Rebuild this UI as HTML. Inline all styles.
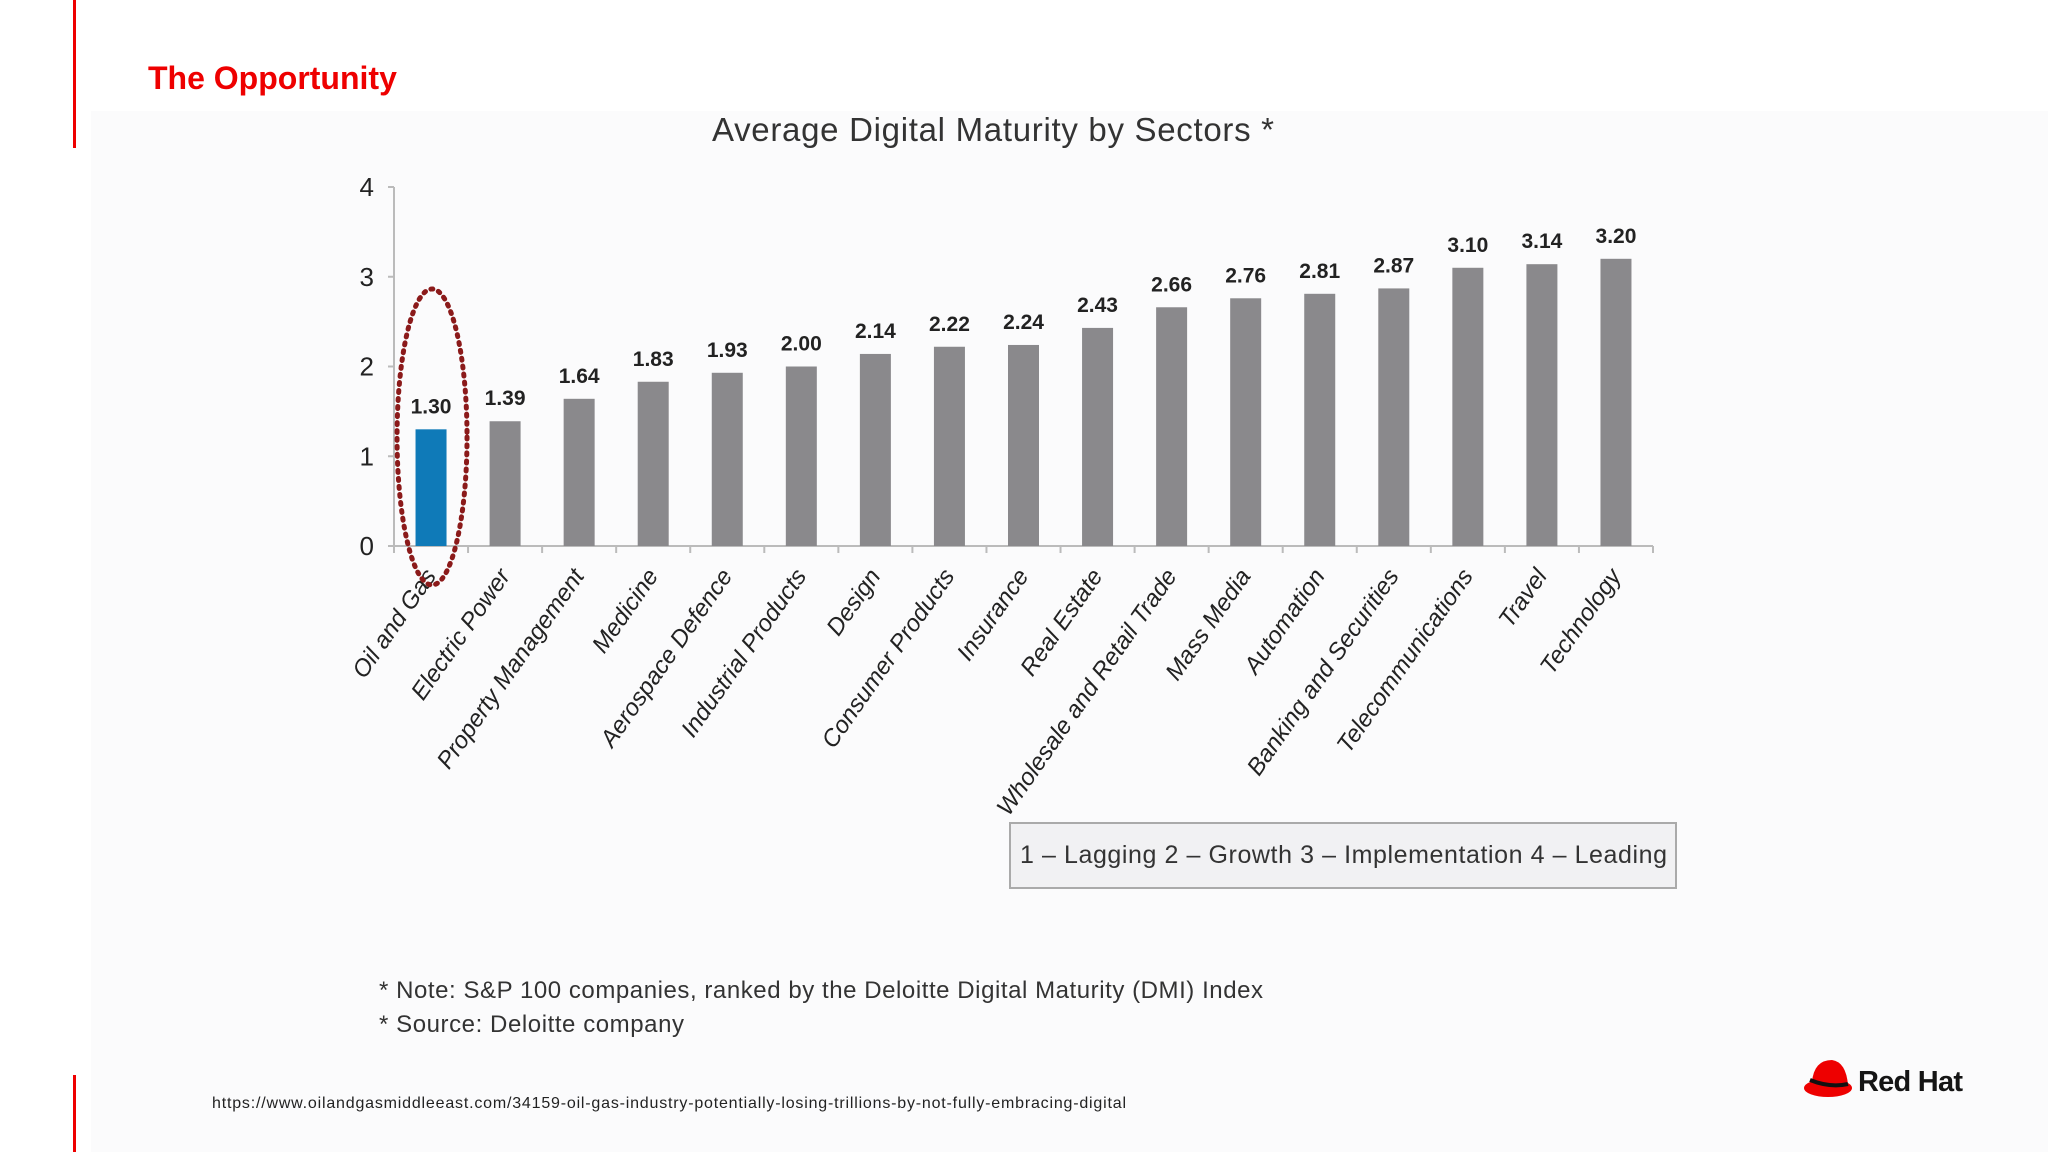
<!DOCTYPE html>
<html><head><meta charset="utf-8">
<style>
html,body{margin:0;padding:0;background:#fff;}
body{width:2048px;height:1152px;position:relative;overflow:hidden;font-family:"Liberation Sans",sans-serif;}
.abs{position:absolute;}
</style></head>
<body>
<div class="abs" style="left:91px;top:111px;width:1957px;height:1041px;background:#fbfbfc;"></div>
<div class="abs" style="left:73px;top:0;width:3px;height:148px;background:#e00;"></div>
<div class="abs" style="left:73px;top:1075px;width:3px;height:77px;background:#e00;"></div>
<div class="abs" style="left:148px;top:60px;font-size:32px;font-weight:bold;color:#e00;">The Opportunity</div>

<svg class="abs" style="left:0;top:0" width="2048" height="1152">
<text x="993" y="141" text-anchor="middle" font-size="33" fill="#333" textLength="562">Average Digital Maturity by Sectors *</text>
<g id="chart"></g>
<rect x="1010" y="823" width="666" height="65" fill="#f1f1f3" stroke="#aaa" stroke-width="2"/>
<text x="1020" y="863" font-size="25" fill="#333" textLength="647">1 – Lagging   2 – Growth   3 – Implementation   4 – Leading</text>
<text x="379" y="998" font-size="24" fill="#333" textLength="884">* Note: S&amp;P 100 companies, ranked by the Deloitte Digital Maturity (DMI) Index</text>
<text x="379" y="1032" font-size="24" fill="#333" textLength="305">* Source: Deloitte company</text>
<text x="212" y="1108" font-size="16" fill="#222" textLength="914">https://www.oilandgasmiddleeast.com/34159-oil-gas-industry-potentially-losing-trillions-by-not-fully-embracing-digital</text>
<g>
<ellipse cx="1828" cy="1088" rx="24" ry="9" fill="#e00"/>
<path d="M1812 1082 Q1814 1060 1832 1060 Q1846 1062 1848 1085 Z" fill="#e00"/>
<path d="M1810 1080 Q1830 1088 1848 1084" stroke="#111" stroke-width="4" fill="none"/>
<text x="1858" y="1091" font-size="29" font-weight="bold" fill="#151515" textLength="105">Red Hat</text>
</g>
</svg>
<script>
const categories=["Oil and Gas","Electric Power","Property Management","Medicine","Aerospace Defence","Industrial Products","Design","Consumer Products","Insurance","Real Estate","Wholesale and Retail Trade","Mass Media","Automation","Banking and Securities","Telecommunications","Travel","Technology"];
const values=[1.30,1.39,1.64,1.83,1.93,2.00,2.14,2.22,2.24,2.43,2.66,2.76,2.81,2.87,3.10,3.14,3.20];
const valueLabels=["1.30","1.39","1.64","1.83","1.93","2.00","2.14","2.22","2.24","2.43","2.66","2.76","2.81","2.87","3.10","3.14","3.20"];
const yTicks=[0,1,2,3,4];
const NS="http://www.w3.org/2000/svg";
const g=document.getElementById('chart');
const X0=394,X1=1653,Y0=546,Y4=187;
const step=(X1-X0)/categories.length;
const y=v=>Y0-(v/4)*(Y0-Y4);
const xc=i=>X0+step*(i+0.5);
function mk(t,a){const e=document.createElementNS(NS,t);for(const k in a)e.setAttribute(k,a[k]);g.appendChild(e);return e;}
const ax=mk('line',{x1:X0,y1:Y4,x2:X0,y2:Y0,stroke:'#bbb','stroke-width':2});


const bx=mk('line',{x1:X0,y1:Y0,x2:X1,y2:Y0,stroke:'#bbb','stroke-width':2});


yTicks.forEach(t=>{
  mk('line',{x1:X0-6,y1:y(t),x2:X0,y2:y(t),stroke:'#bbb','stroke-width':2});
  const tl=mk('text',{x:X0-20,y:y(t)+9,'text-anchor':'end','font-size':26,fill:'#222'});
  tl.textContent=t;
  
  
});
for(let i=0;i<=categories.length;i++)mk('line',{x1:X0+step*i,y1:Y0,x2:X0+step*i,y2:Y0+7,stroke:'#bbb','stroke-width':2});
categories.forEach((c,i)=>{
  const b=mk('rect',{x:xc(i)-15.5,y:y(values[i]),width:31,height:Y0-y(values[i]),fill:i===0?'#0f7ab8':'#8a898c'});
  
  
  const vl=mk('text',{x:xc(i),y:y(values[i])-16,'text-anchor':'middle','font-size':21,'font-weight':'bold',fill:'#222'});
  vl.textContent=valueLabels[i];
  
  
  const lx=xc(i)+6, ly=Y0+30;
  const cl=mk('text',{x:lx,y:ly,'text-anchor':'end','font-size':24,'font-style':'italic',fill:'#222',transform:`rotate(-55 ${lx} ${ly})`});
  cl.textContent=c;
  
  
});
const el=mk('ellipse',{cx:xc(0)+1,cy:437,rx:35,ry:148,fill:'none',stroke:'#8b1a1a','stroke-width':5,'stroke-dasharray':'2 6','stroke-linecap':'round'});


</script>
</body></html>
